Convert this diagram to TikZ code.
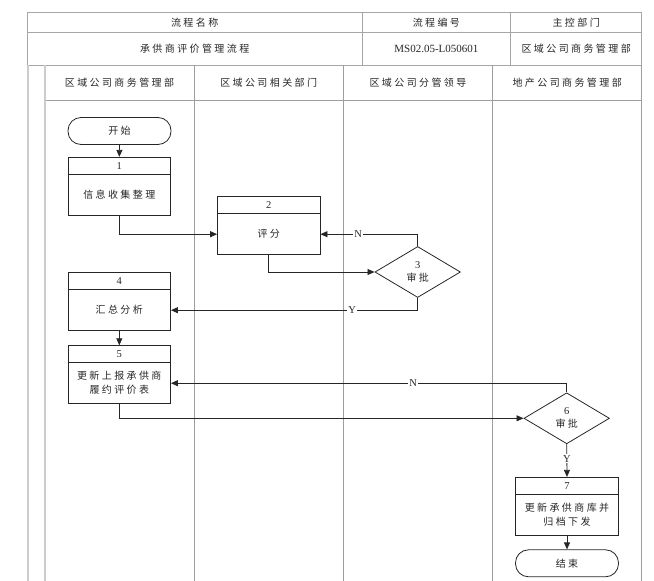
\documentclass[tikz,border=0pt]{standalone}
\usepackage{fontspec}
\setmainfont{Liberation Serif}
\newfontfamily\cjk[LetterSpace=24]{Noto Sans CJK SC}
\usetikzlibrary{arrows.meta,calc,shapes.geometric}
\newcommand\procbox[5]{%
  \node[proc] (#1) at (#2,#3+29) {};
  \draw[shape line] ($(#1.north west)+(0,17.4)$) -- ($(#1.north east)+(0,17.4)$);
  \node[numf] (#1n) at ($(#1.north)+(0,8.7)$) {#4};
  \node[txt] (#1t) at ($(#1.north)+(0,37.9)$) {#5};
}
\begin{document}
\begin{tikzpicture}[x=1pt,y=-1pt,
  grid/.style={draw=black!35, line width=0.8pt},
  lane/.style={draw=black!38, line width=0.8pt},
  strip/.style={draw=black!20, line width=1.6pt},
  shape line/.style={draw=black!85, line width=0.8pt},
  proc/.style={shape line, rectangle, minimum width=102.5pt, minimum height=58pt, inner sep=0pt},
  term/.style={shape line, rectangle, rounded corners=13pt, minimum width=103pt, minimum height=27pt, inner sep=0pt, font=\fontsize{10}{14}\selectfont\cjk, text=black!85},
  dec/.style={shape line, diamond, minimum width=85.5pt, minimum height=51pt, inner sep=0pt, align=center, font=\fontsize{10}{14}\selectfont\cjk, text=black!85},
  txt/.style={inner sep=0pt, align=center, font=\fontsize{10}{14}\selectfont\cjk, text=black!85},
  hdr/.style={inner sep=0pt, align=center, font=\fontsize{10}{14}\selectfont\cjk, text=black!85},
  numf/.style={inner sep=0pt, font=\fontsize{10.5}{12}\selectfont, text=black!85},
  arr/.style={shape line, -{Triangle[length=7pt,width=6pt]}},
  lbl/.style={fill=white, inner sep=1pt, font=\fontsize{10.5}{12}\selectfont, text=black!85}]
\useasboundingbox (0,0) rectangle (654,581);
% header table
\draw[grid] (27.3,12.7) rectangle (641.7,65.3);
\draw[grid] (27.3,32) -- (641.7,32);
\draw[grid] (362,12.7) -- (362,65.3);
\draw[grid] (510.7,12.7) -- (510.7,65.3);
\node[hdr] (h1) at (194.7,22.4) {流程名称};
\node[hdr] (h2) at (436.4,22.4) {流程编号};
\node[hdr] (h3) at (576.2,22.4) {主控部门};
\node[hdr] (v1) at (194.7,48.7) {承供商评价管理流程};
\node[numf, font=\fontsize{11}{12}\selectfont] (v2) at (436.4,48.7) {MS02.05-L050601};
\node[hdr] (v3) at (576.2,48.7) {区域公司商务管理部};
% swimlanes
\draw[strip] (27.7,65.3) -- (27.7,581);
\draw[strip] (45,65.3) -- (45,581);
\draw[lane] (194,65.3) -- (194,581);
\draw[lane] (343.3,65.3) -- (343.3,581);
\draw[lane] (492.7,65.3) -- (492.7,581);
\draw[lane] (641.7,65.3) -- (641.7,581);
\draw[lane] (46,100) -- (641.7,100);
\node[hdr] (l1) at (119.5,82.8) {区域公司商务管理部};
\node[hdr] (l2) at (268.7,82.8) {区域公司相关部门};
\node[hdr] (l3) at (418,82.8) {区域公司分管领导};
\node[hdr] (l4) at (567.2,82.8) {地产公司商务管理部};
% shapes
\node[term] (start) at (119.5,131) {开始};
\procbox{b1}{119.3}{157.3}{1}{信息收集整理}
\procbox{b2}{268.8}{196.7}{2}{评分}
\node[dec] (d3) at (417.7,272) {\fontsize{10.5}{14}\selectfont\rmfamily 3\\[-1pt]审批};
\procbox{b4}{119.3}{272.7}{4}{汇总分析}
\procbox{b5}{119.3}{345.7}{5}{更新上报承供商\\履约评价表}
\node[dec] (d6) at (566.7,418.3) {\fontsize{10.5}{14}\selectfont\rmfamily 6\\[-1pt]审批};
\procbox{b7}{567}{477.3}{7}{更新承供商库并\\归档下发}
\node[term] (end) at (567,563.3) {结束};
% connectors
\draw[arr] (start.south) -- (b1.north);
\draw[arr] (b1.south) |- (b2t -| b2.west);
\draw[arr] (b2.south) |- (d3.west);
\draw[arr] (d3.north) |- (b2t -| b2.east) node[lbl, pos=0.806] (n3) {N};
\draw[arr] (d3.south) |- (b4t -| b4.east) node[lbl, pos=0.633] (y3) {Y};
\draw[arr] (b4.south) -- (b5.north);
\draw[arr] (b5.south) |- (d6.west);
\draw[arr] (d6.north) |- (b5t -| b5.east) node[lbl, pos=0.694] (n6) {N};
\draw[arr] (d6.south) -- (b7.north) node[lbl, pos=0.44] (y6) {Y};
\draw[arr] (b7.south) -- (end.north);
\end{tikzpicture}
\end{document}
